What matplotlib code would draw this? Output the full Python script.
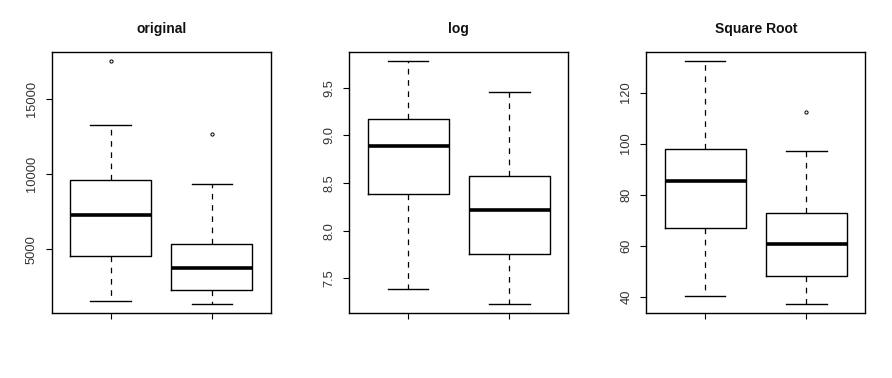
import numpy as np
import matplotlib.pyplot as plt

plt.rcParams['font.family'] = ['Liberation Sans', 'DejaVu Sans']

# values: (whislo, q1, med, q3, whishi, fliers) per box
titles = ['original', 'log', 'Square Root']

orig_stats = [(1578, 4513, 7267, 9600, 13267, [17467]),
              (1378, 2311, 3711, 5313, 9353, [12667])]
log_stats = [(7.392, 8.388, 8.884, 9.168, 9.777, []),
             (7.234, 7.755, 8.217, 8.574, 9.452, [])]
sqrt_stats = [(40.4, 66.8, 85.5, 98.0, 132.2, []),
              (37.3, 48.2, 60.8, 72.9, 96.9, [112.5])]

yticks = [[5000, 10000, 15000],
          [7.5, 8.0, 8.5, 9.0, 9.5],
          [40, 60, 80, 100, 120]]
ytick_labels = [['5000', '10000', '15000'],
                ['7.5', '8.0', '8.5', '9.0', '9.5'],
                ['40', '60', '80', '100', '120']]

all_stats = [orig_stats, log_stats, sqrt_stats]

fig = plt.figure(figsize=(8.92, 3.78), dpi=100)
lefts = [51.7, 349.3, 646.3]
W, H = 892.0, 378.0
aw = 219.0
top, bot = 51.7, 313.3

for i in range(3):
    ax = fig.add_axes([lefts[i] / W, 1 - bot / H, aw / W, (bot - top) / H])
    stats = []
    for (lo, q1, med, q3, hi, fl) in all_stats[i]:
        stats.append(dict(whislo=lo, q1=q1, med=med, q3=q3, whishi=hi, fliers=fl))
    ax.bxp(stats, positions=[1, 2], widths=0.8, showfliers=True,
           boxprops=dict(color='black', linewidth=1.0),
           medianprops=dict(color='black', linewidth=2.6, solid_capstyle='butt'),
           whiskerprops=dict(color='black', linewidth=0.9, linestyle=(0, (4.5, 4.5))),
           capprops=dict(color='black', linewidth=1.0),
           capwidths=0.4,
           flierprops=dict(marker='o', markersize=2.3, markerfacecolor='none',
                           markeredgecolor='black', markeredgewidth=0.7))
    vals = []
    for s in all_stats[i]:
        vals += [s[0], s[4]] + s[5]
    lo, hi = min(vals), max(vals)
    pad = 0.04 * (hi - lo)
    ax.set_ylim(lo - pad, hi + pad)
    ax.set_xlim(0.42, 2.58)
    ax.set_xticks([1, 2])
    ax.set_xticklabels(['', ''])
    ax.set_yticks(yticks[i])
    ax.set_yticklabels(ytick_labels[i])
    ax.tick_params(axis='both', length=4.5, width=0.8, direction='out',
                   labelsize=9.3, pad=5.5, colors='black')
    ax.tick_params(axis='y', labelrotation=90, labelcolor='#333333')
    for lab in ax.get_yticklabels():
        lab.set_va('center')
    for sp in ax.spines.values():
        sp.set_linewidth(1.0)
    ax.set_title(titles[i], fontsize=10, fontweight='bold', pad=13.5, color='#111111')

fig.savefig('out.png', dpi=100)
